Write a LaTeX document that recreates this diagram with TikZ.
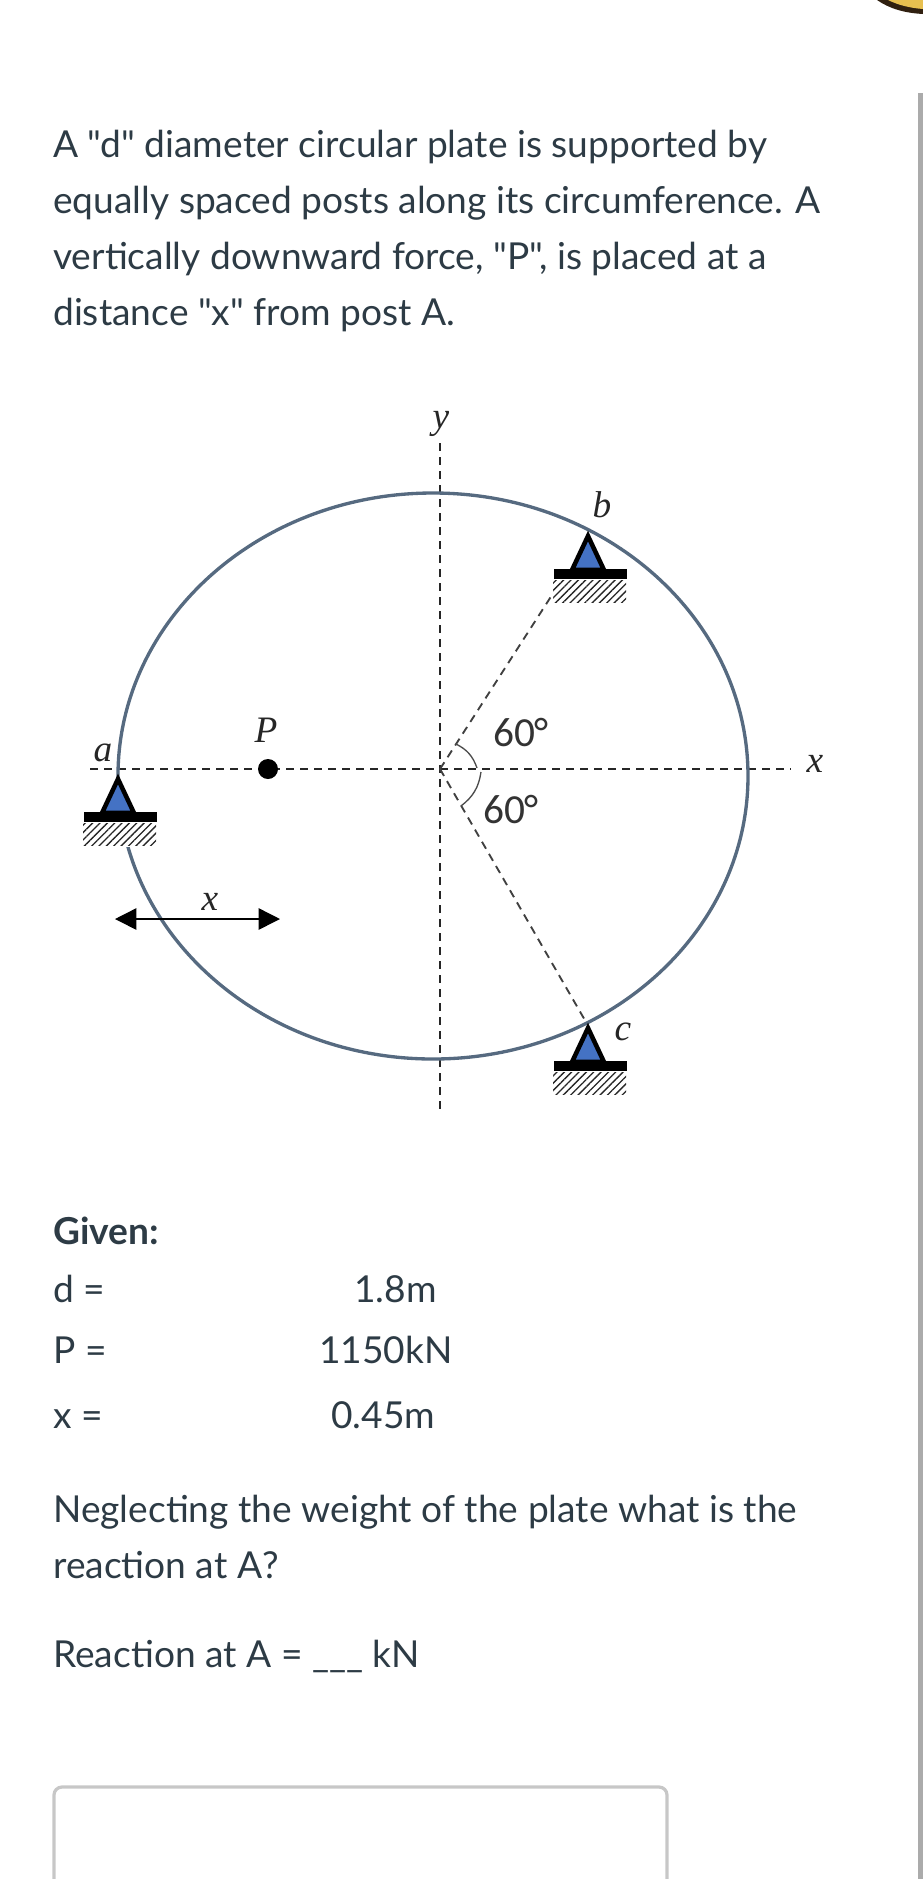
\documentclass[tikz,border=0pt]{standalone}
\usepackage{fontspec}
\setmainfont{Lato}[Ligatures=TeXOff]
\newfontfamily\labfont{Liberation Serif}
\newfontfamily\angfont{Carlito}
\usepackage{xcolor}
\usetikzlibrary{patterns.meta}
\usetikzlibrary{arrows.meta}
\definecolor{textcol}{HTML}{2D3B45}
\definecolor{platecol}{HTML}{566A80}
\definecolor{postcol}{HTML}{4472C4}
\definecolor{coincol}{HTML}{E8C050}
\tikzset{
  txt/.style={anchor=base west,inner sep=0pt,text=textcol,font=\fontsize{27.85}{32}\selectfont},
  lab/.style={inner sep=0pt,text=black!85,font=\labfont\itshape\fontsize{28}{30}\selectfont},
  ang/.style={inner sep=0pt,text=black!80,font=\angfont\fontsize{31}{32}\selectfont},
  axisline/.style={line width=1.3pt,black!85,dash pattern=on 6pt off 4.5pt},
  spoke/.style={line width=1.4pt,black!75,dash pattern=on 6pt off 4.5pt},
  post/.pic={
    \fill [white] (-36,50) rectangle (40,77);
    \fill [pattern={Lines[angle=45,distance=3.9pt,line width=1pt]},pattern color=black!85] (-35,53) rectangle (38,75);
    \draw [line width=3.4pt,miter limit=10,fill=postcol] (0,9) -- (-16,43) -- (16,43) -- cycle;
    \fill [black] (-34,42) rectangle (39,52);
  }
}
\begin{document}
\begin{tikzpicture}[x=0.75pt,y=-0.75pt]
\useasboundingbox (0,0) rectangle (923,1879);
% page furniture
\fill [black!75!brown] (877,0) .. controls (890,9) and (905,13) .. (923,14) -- (923,0) -- cycle;
\fill [coincol] (888,0) .. controls (898,5) and (910,8) .. (923,9) -- (923,0) -- cycle;
\fill [black!33] (918,93) rectangle (923,1879);
% question text
\node [txt] (line1) at (53,157) {A "d" diameter circular plate is supported by};
\node [txt] (line2) at (53,213) {equally spaced posts along its circumference. A};
\node [txt] (line3) at (53,269) {vertically downward force, "P", is placed at a};
\node [txt] (line4) at (53,325) {distance "x" from post A.};
% plate
\coordinate (o) at (440,769);
\coordinate (aleft) at (90,769);
\coordinate (aright) at (791,769);
\coordinate (ytop) at (440,443);
\coordinate (ybot) at (440,1110);
\coordinate (spokeb) at (552,595);
\coordinate (spokec) at (586,1022);
\draw [axisline] (aleft) -- (aright);
\draw [axisline] (ytop) -- (ybot);
\draw [spoke] (o) -- (spokeb);
\draw [spoke] (o) -- (spokec);
\draw [platecol,line width=2.5pt] (433,776) ellipse (315 and 283);
\coordinate (arc1a) at (456,744);
\coordinate (arc1b) at (477,768);
\coordinate (arc2a) at (481,772);
\coordinate (arc2b) at (461,806);
\draw [line width=1pt,black!70] (arc1a) to [bend left=22] (arc1b);
\draw [line width=1pt,black!70] (arc2a) to [bend left=22] (arc2b);
% posts
\pic at (118,770) {post};
\pic at (588,527) {post};
\pic at (588,1019) {post};
% load and dimension
\node [circle,fill=black,minimum size=15pt,inner sep=0pt] (P) at (268,769) {};
\coordinate (xleft) at (115,919);
\coordinate (xright) at (280,919);
\draw [line width=1.1pt,{Triangle[length=16pt,width=16pt]}-{Triangle[length=16pt,width=16pt]}] (xleft) -- (xright);
% labels
\node [lab] (laba) at (103,753) {a};
\node [lab] (labb) at (602,505) {b};
\node [lab] (labc) at (623,1032) {c};
\node [lab] (labP) at (266,730) {P};
\node [lab] (labx) at (210,902) {x};
\node [lab] (laby) at (441,424) {y};
\node [lab] (labxx) at (815,764) {x};
\node [ang] (ang1) at (521,733) {60°};
\node [ang] (ang2) at (511,810) {60°};
% given
\node [txt,font=\bfseries\fontsize{27.85}{32}\selectfont] (given) at (53,1244) {Given:};
\node [txt] (dname) at (53,1302) {d =};
\node [txt] (Pname) at (53,1363) {P =};
\node [txt] (xname) at (53,1428) {x =};
\node [txt] (dval) at (354,1302) {1.8m};
\node [txt] (Pval) at (319,1363) {1150kN};
\node [txt] (xval) at (331,1428) {0.45m};
\node [txt] (ask1) at (53,1522) {Neglecting the weight of the plate what is the};
\node [txt] (ask2) at (53,1578) {reaction at A?};
\node [txt] (answer) at (53,1667) {Reaction at A = \_\_\_ kN};
% answer box
\draw [black!22,line width=2.4pt,rounded corners=6pt] (54,1890) -- (54,1787) -- (667,1787) -- (667,1890);
\end{tikzpicture}
\end{document}
